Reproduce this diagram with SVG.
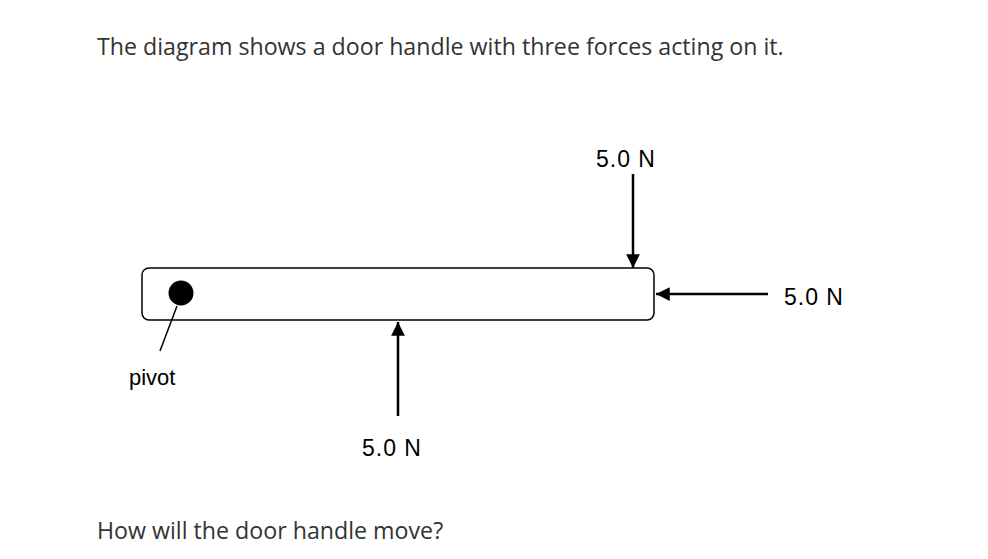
<svg xmlns="http://www.w3.org/2000/svg" width="988" height="559" viewBox="0 0 988 559">
<style>
.q{font-family:"Open Sans",sans-serif;font-size:23.2px;fill:#333}
.l{font-family:"Liberation Sans",Arial,sans-serif;font-size:22px;fill:#000}
.n{font-size:23px;letter-spacing:1px}
.c{stroke:#000;stroke-width:2.5;fill:none}
</style>
<defs><marker id="a" viewBox="0 0 10 10" refX="10" refY="5" markerWidth="5.5" markerHeight="6" orient="auto" markerUnits="strokeWidth"><path d="M0,0L10,5L0,10z" fill="#000"/></marker></defs>
<rect width="988" height="559" fill="#fff"/>
<text class="q" x="97" y="55">The diagram shows a door handle with three forces acting on it.</text>
<text class="q" x="97" y="539">How will the door handle move?</text>
<g id="handle"><rect x="142" y="268" width="512" height="52" rx="7" fill="#fff" stroke="#000" stroke-width="1.5"/></g>
<g id="pivot"><circle cx="181" cy="293" r="12.5" fill="#000"/><line x1="177" y1="306" x2="160" y2="351" stroke="#000" stroke-width="1.5"/><text class="l" x="129" y="385">pivot</text></g>
<g id="connectors">
<line class="c" x1="398" y1="416" x2="398" y2="322" marker-end="url(#a)"/>
<line class="c" x1="633" y1="174" x2="633" y2="268" marker-end="url(#a)"/>
<line class="c" x1="768" y1="294" x2="656" y2="294" marker-end="url(#a)"/>
</g>
<g id="labels">
<text class="l n" x="362" y="456">5.0 N</text>
<text class="l n" x="596" y="167">5.0 N</text>
<text class="l n" x="784" y="305">5.0 N</text>
</g>
</svg>
